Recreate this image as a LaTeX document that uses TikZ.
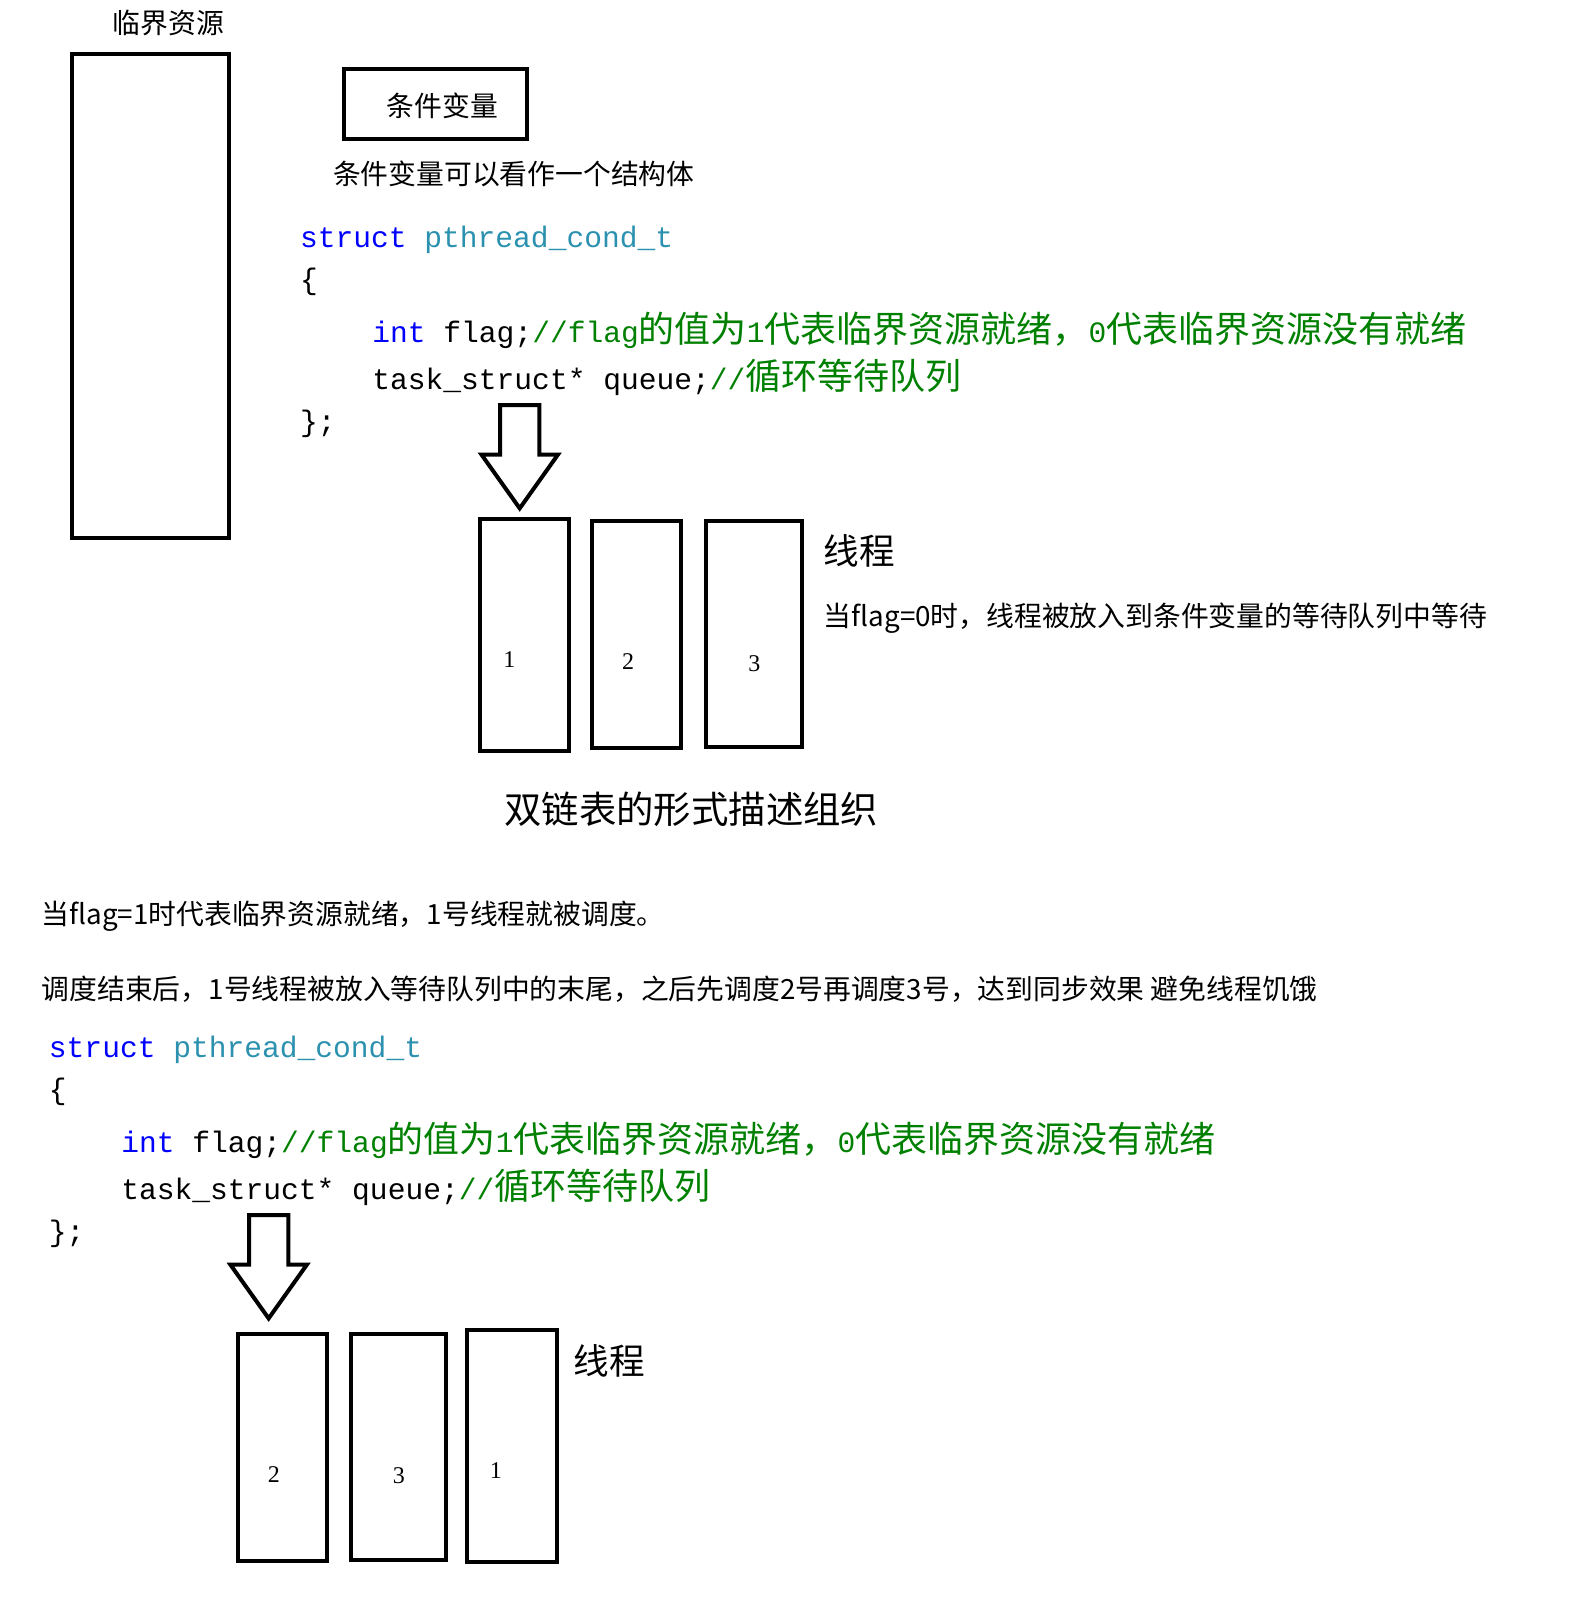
\documentclass[tikz,border=0pt]{standalone}
\usepackage{fontspec}
\setmainfont{Liberation Serif}
\newfontfamily\cj{Noto Sans CJK SC}
\newfontfamily\cm{Liberation Mono}
\newcommand\cz[1]{{\cj\fontsize{18}{20}\selectfont #1}}
\definecolor{kw}{RGB}{0,0,255}
\definecolor{ty}{RGB}{43,145,175}
\definecolor{cmt}{RGB}{0,128,0}
\begin{document}
\begin{tikzpicture}[x=0.5165pt,y=-0.5165pt,
  box/.style={draw,line width=2pt},
  txt/.style={inner sep=0pt,anchor=west,font=\cj\fontsize{13.9}{15}\selectfont},
  code/.style={inner sep=0pt,anchor=west,font=\cm\fontsize{14.8}{17}\selectfont},
  num/.style={inner sep=0pt,font=\fontsize{12}{14}\selectfont},
  big/.style={inner sep=0pt,font=\cj\fontsize{17.8}{20}\selectfont}]
\useasboundingbox (0,0) rectangle (1530,1565);
\node[txt,anchor=center] (cr) at (163,22) {临界资源};
\draw[box] (70,52) rectangle (222,521);
\draw[box] (333,67) rectangle (510,135);
\node[txt,anchor=center] (cv) at (428,102) {条件变量};
\node[txt] (cvs) at (322,168) {条件变量可以看作一个结构体};
\foreach \dx/\dy/\p in {0/0/a,-243/784/b}{
\begin{scope}[shift={(\dx,\dy)}]
\node[code] (s\p) at (290,232) {\textcolor{kw}{struct} \textcolor{ty}{pthread\_cond\_t}};
\node[code] (o\p) at (290,273) {\{};
\node[code] (i\p) at (360,320) {\textcolor{kw}{int} flag;\textcolor{cmt}{//flag\cz{的值为}1\cz{代表临界资源就绪，}0\cz{代表临界资源没有就绪}}};
\node[code] (t\p) at (360,365) {task\_struct* queue;\textcolor{cmt}{//\cz{循环等待队列}}};
\node[code] (c\p) at (290,410) {\};};
\draw[line width=2pt,line join=miter] (484,392) -- (522,392) -- (522,440) -- (540,440) -- (503,492) -- (466,440) -- (484,440) -- cycle;
\end{scope}}
\draw[box] (465,502) rectangle (551,727);
\draw[box] (573,504) rectangle (659,724);
\draw[box] (683,504) rectangle (776,723);
\node[num] (n1) at (493,638) {1};
\node[num] (n2) at (608,640) {2};
\node[num] (n3) at (730,642) {3};
\node[big,anchor=west] (xc) at (797,533) {线程};
\node[txt] (w0) at (797,598) {当flag=0时，线程被放入到条件变量的等待队列中等待};
\node[big,anchor=center,font=\cj\fontsize{18.7}{20}\selectfont] (sl) at (669,783) {双链表的形式描述组织};
\node[txt] (w1) at (40,887) {当flag=1时代表临界资源就绪，1号线程就被调度。};
\node[txt] (w2) at (40,957) {调度结束后，1号线程被放入等待队列中的末尾，之后先调度2号再调度3号，达到同步效果 避免线程饥饿};
\draw[box] (230,1291) rectangle (316,1511);
\draw[box] (340,1291) rectangle (432,1510);
\draw[box] (452,1287) rectangle (539,1512);
\node[num] (m2) at (265,1427) {2};
\node[num] (m3) at (386,1428) {3};
\node[num] (m1) at (480,1423) {1};
\node[big,anchor=west] (xc2) at (555,1317) {线程};
\end{tikzpicture}
\end{document}
